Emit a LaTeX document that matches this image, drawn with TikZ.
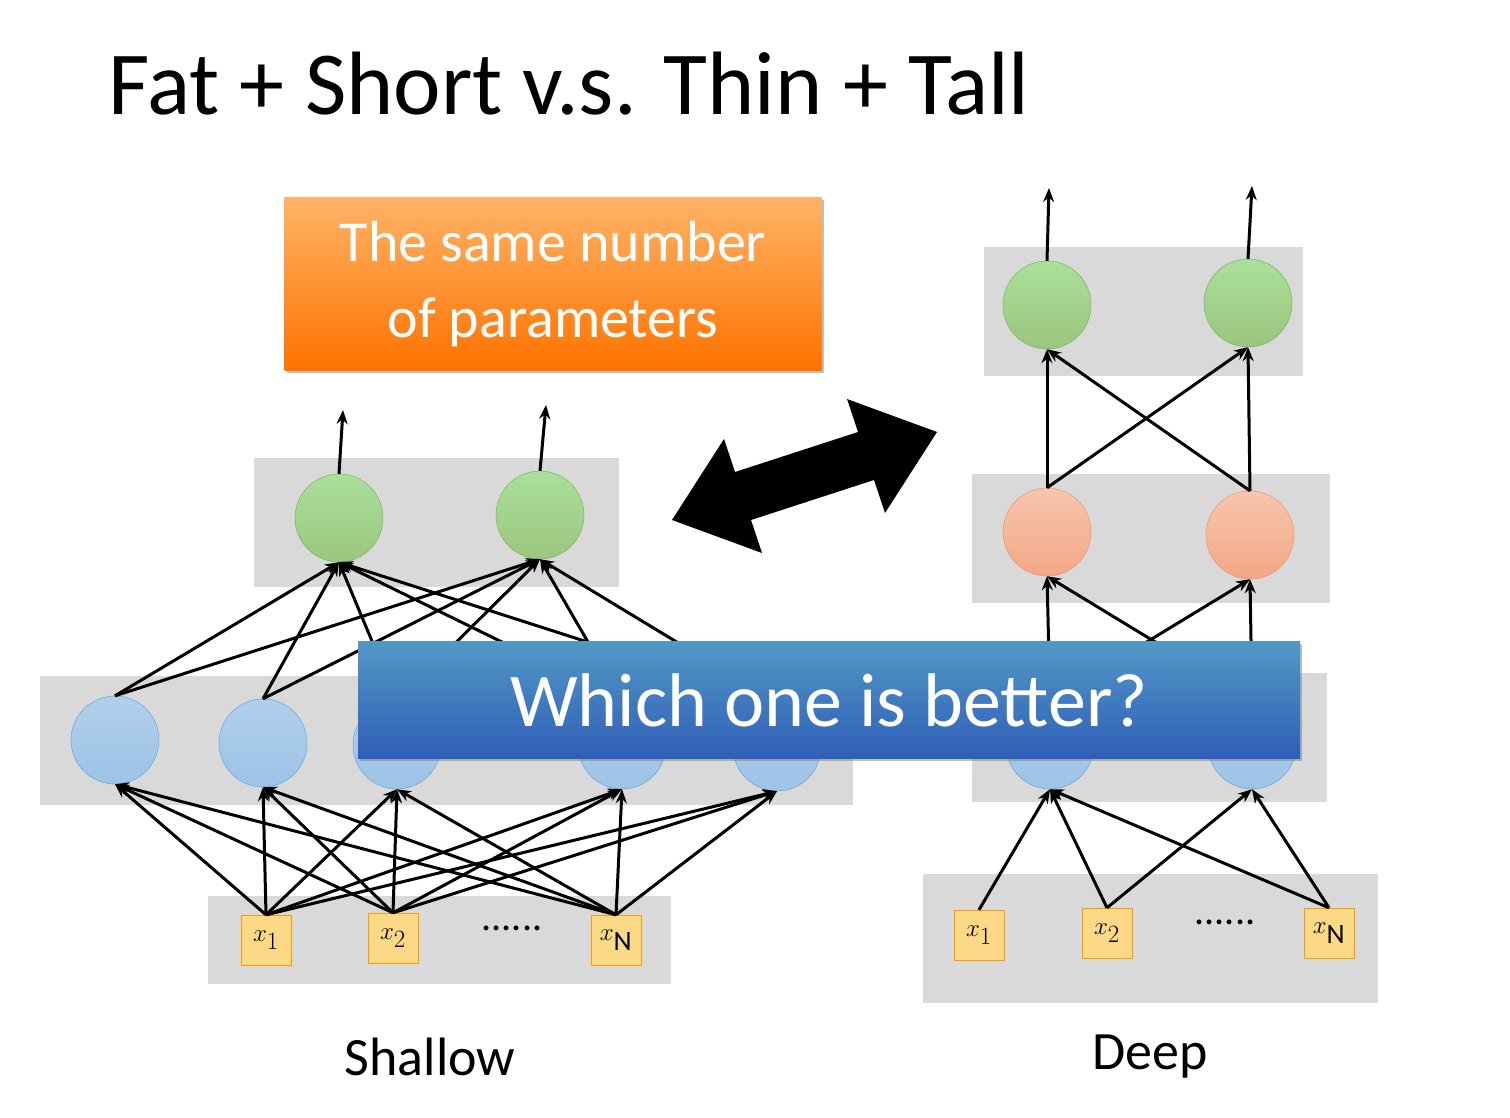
\documentclass[tikz,border=0pt]{standalone}
\usepackage{fontspec}
\setmainfont{Carlito}
\usetikzlibrary{arrows.meta,shadows}
\definecolor{gr}{HTML}{D9D9D9}
\definecolor{bfill}{HTML}{9DC3E6}
\definecolor{bline}{HTML}{5B9BD5}
\definecolor{gline}{HTML}{70AD47}
\definecolor{oline}{HTML}{F08A5D}
\begin{document}
\begin{tikzpicture}[x=1pt,y=-1pt,
  layer/.style={fill=gr,draw=none},
  gc/.style={circle,minimum size=88pt,inner sep=0,draw=gline,top color=green!25!gline!50!white,bottom color=gline!70!white},
  bc/.style={circle,minimum size=88pt,inner sep=0,draw=bline,top color=bfill!80!white,bottom color=bfill},
  oc/.style={circle,minimum size=88pt,inner sep=0,draw=oline,top color=oline!50!white,bottom color=oline!75!white},
  xb/.style={draw=orange!80!yellow,fill=yellow!40!orange!45!white,minimum size=50pt,inner sep=0,font=\fontsize{40}{40}\selectfont},
  ar/.style={line width=3pt,-{Stealth[length=14pt,width=11pt]}},
]
\useasboundingbox (0,0) rectangle (1510,1118);
\fill[white] (0,0) rectangle (1510,1118);
\node[anchor=base west,font=\fontsize{90}{100}\selectfont,inner sep=0] (title) at (108,115) {Fat + Short v.s. Thin + Tall};
% shallow layers
\fill[layer] (254,458) rectangle (619,587);
\fill[layer] (40,676) rectangle (853,805);
\fill[layer] (208,896) rectangle (671,984);
% deep layers
\fill[layer] (984,247) rectangle (1303,376);
\fill[layer] (972,474) rectangle (1330,603);
\fill[layer] (972,673) rectangle (1327,802);
\fill[layer] (923,874) rectangle (1378,1003);
% shallow nodes
\node[gc] (o1) at (339,518) {};
\node[gc] (o2) at (540,515) {};
\foreach \i/\x/\y in {1/115/740,2/263/743,3/397/745,4/622/745,5/777/747}
  \node[bc] (h\i) at (\x,\y) {};
\node[xb] (s1) at (266,940) {$x_1$};
\node[xb] (s2) at (393,938) {$x_2$};
\node[xb] (s3) at (616,940) {$x_{\mathrm N}$};
\node[font=\fontsize{40}{40}\selectfont] (sd) at (512,928) {......};
\coordinate (so1) at (343,410);
\coordinate (so2) at (546,405);
\draw[ar] (o1.north) -- (so1);
\draw[ar] (o2.north) -- (so2);
\foreach \s in {s1,s2,s3} \foreach \h in {h1,h2,h3,h4,h5}
  \draw[ar] (\s.north) -- (\h.south);
\foreach \h in {h1,h2,h3,h4,h5} \foreach \o in {o1,o2}
  \draw[ar] (\h.north) -- (\o.south);
% deep nodes
\node[gc] (d3a) at (1047,305) {};
\node[gc] (d3b) at (1248,303) {};
\node[oc] (d2a) at (1047,532) {};
\node[oc] (d2b) at (1250,535) {};
\node[bc] (d1a) at (1050,745) {};
\node[bc] (d1b) at (1252,745) {};
\node[xb] (t1) at (979,935) {$x_1$};
\node[xb] (t2) at (1107,933) {$x_2$};
\node[xb] (t3) at (1329,933) {$x_{\mathrm N}$};
\node[font=\fontsize{40}{40}\selectfont] (td) at (1225,922) {......};
\coordinate (do1) at (1049,188);
\coordinate (do2) at (1252,186);
\draw[ar] (d3a.north) -- (do1);
\draw[ar] (d3b.north) -- (do2);
\foreach \a in {d2a,d2b} \foreach \b in {d3a,d3b} \draw[ar] (\a.north) -- (\b.south);
\foreach \a in {d1a,d1b} \foreach \b in {d2a,d2b} \draw[ar] (\a.north) -- (\b.south);
\draw[ar] (t1.north) -- (d1a.south);
\draw[ar] (t2.north) -- (d1a.south);
\draw[ar] (t2.north) -- (d1b.south);
\draw[ar] (t3.north) -- (d1a.south);
\draw[ar] (t3.north) -- (d1b.south);
% double arrow
\fill[black] (672,520) -- (724,439) -- (735,472) -- (858,432) -- (847,399) -- (937,432) -- (885,513) -- (874,480) -- (751,520) -- (762,553) -- cycle;
% boxes
\node[drop shadow,top color=orange!60!white,bottom color=orange!90!red,minimum width=537pt,minimum height=173pt,text=white,align=center,font=\fontsize{58}{76}\selectfont] (same) at (553,284) {The same number\\of parameters};
\node[drop shadow,top color=blue!40!cyan!50!gray!90,bottom color={rgb,255:red,47;green,94;blue,184},minimum width=942pt,minimum height=117pt,text=white,font=\fontsize{76}{80}\selectfont] (which) at (829,700) {Which one is better?};
\node[font=\fontsize{54}{60}\selectfont] (shallow) at (430,1057) {Shallow};
\node[font=\fontsize{54}{60}\selectfont] (deep) at (1150,1057) {Deep};
\end{tikzpicture}
\end{document}
